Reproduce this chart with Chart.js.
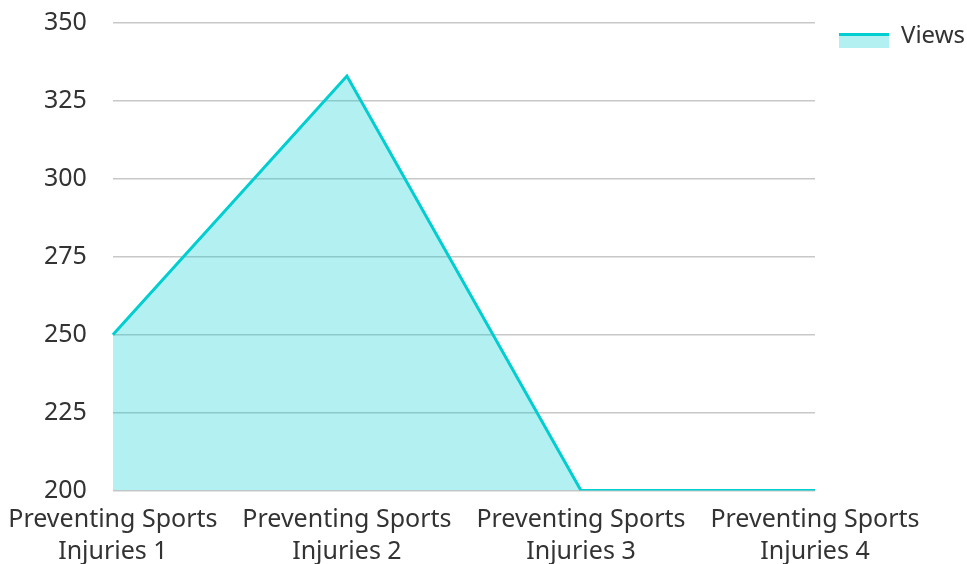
<!DOCTYPE html>
<html>
<head>
<meta charset="utf-8">
<script src="https://cdn.jsdelivr.net/npm/chart.js@4"></script>
<style>
    html, body { margin: 0; padding: 0; background: #fff; }
    #wrap { width: 967px; height: 564px; }
</style>
</head>
<body>
<div id="wrap"><canvas id="chart"></canvas></div>
<script>
const categories = [
    ['Preventing Sports', 'Injuries 1'],
    ['Preventing Sports', 'Injuries 2'],
    ['Preventing Sports', 'Injuries 3'],
    ['Preventing Sports', 'Injuries 4']
];
const views = [250, 333, 200, 200];
const yTicks = [200, 225, 250, 275, 300, 325, 350];

const lineColor = '#00CED1';
const fillColor = 'rgba(0, 206, 209, 0.3)';

// legend swatch: line on top, fill under it (drawn a bit below text centre)
let swatch = document.createElement('canvas');
swatch.width = 50;
swatch.height = 24;
let sctx = swatch.getContext('2d');
sctx.fillStyle = fillColor;
sctx.fillRect(0, 11, 50, 13);
sctx.fillStyle = lineColor;
sctx.fillRect(0, 9, 50, 3);

Chart.defaults.font.family = '"Noto Sans", "Open Sans", sans-serif';
Chart.defaults.font.size = 24;
Chart.defaults.color = '#333';

new Chart(document.getElementById('chart'), {
    type: 'line',
    data: {
        labels: categories,
        datasets: [{
            label: 'Views',
            data: views,
            borderColor: lineColor,
            backgroundColor: fillColor,
            borderWidth: 3,
            fill: 'origin',
            tension: 0,
            pointRadius: 0,
            pointStyle: swatch
        }]
    },
    options: {
        responsive: true,
        maintainAspectRatio: false,
        animation: false,
        layout: { padding: { top: 0, right: -8, bottom: -9, left: 18 } },
        plugins: {
            legend: {
                position: 'right',
                align: 'start',
                labels: {
                    usePointStyle: true,
                    pointStyleWidth: 50,
                    boxHeight: 16,
                    padding: 24,
                    color: '#333',
                    font: { size: 24 }
                }
            },
            tooltip: { enabled: false }
        },
        scales: {
            x: {
                offset: false,
                grid: { display: false },
                border: { display: false },
                ticks: { maxRotation: 0, autoSkip: false, padding: 6, font: { size: 25, lineHeight: 1.25 } }
            },
            y: {
                min: 200,
                max: 350,
                afterBuildTicks: axis => { axis.ticks = yTicks.map(v => ({ value: v })); },
                afterFit: axis => { axis.paddingTop = 23; },
                grid: { color: '#c8c8c8', lineWidth: 1.5, drawTicks: false },
                border: { display: false },
                ticks: { padding: 26, font: { size: 25 } }
            }
        }
    }
});
</script>
</body>
</html>
